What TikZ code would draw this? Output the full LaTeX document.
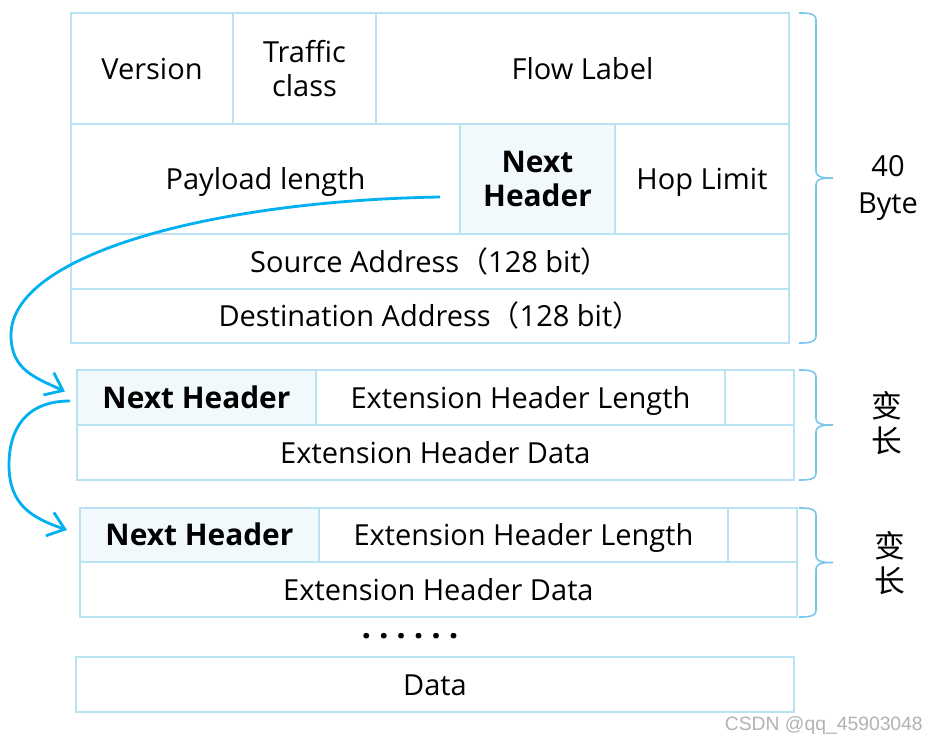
\documentclass[tikz,border=0pt]{standalone}
\usepackage{fontspec}
\setmainfont{Open Sans}
\newfontfamily\cjk{Noto Sans CJK SC}
\newfontfamily\markfont{Liberation Sans}
\usetikzlibrary{arrows.meta}
\definecolor{cellline}{RGB}{185,227,245}
\definecolor{nhfill}{RGB}{242,249,253}
\definecolor{flowblue}{RGB}{0,176,240}
\definecolor{bracecol}{RGB}{120,198,236}
\tikzstyle{box} = [draw=cellline, line width=1.15pt, inner sep=0pt, outer sep=0pt, anchor=north west, align=center, font=\fontsize{16.5}{19.5}\selectfont]
\tikzstyle{cell} = [box, text height=15pt, text depth=2.6pt]
\tikzstyle{nhcell} = [cell, fill=nhfill, font=\fontsize{17}{19.5}\selectfont\bfseries]
\tikzstyle{flow} = [flowblue, line width=1.6pt, -{Straight Barb[length=9pt,width=14pt]}]
\tikzstyle{brace} = [bracecol, line width=0.9pt]
\tikzstyle{side} = [align=center, font=\fontsize{16.5}{21.5}\selectfont]
% brace on the right, from top y to bottom y
\newcommand{\sidebrace}[2]{%
  \draw[brace] (799,#1) to[out=0,in=90] (816,#1+7) -- (816,{(#1+#2)/2-7})
    to[out=-90,in=180] (833,{(#1+#2)/2}) to[out=180,in=90] (816,{(#1+#2)/2+7})
    -- (816,#2-7) to[out=-90,in=0] (799,#2);}

\begin{document}
\begin{tikzpicture}[x=0.02cm, y=-0.02cm]
\useasboundingbox (0,0) rectangle (931,743);

% IPv6 basic header
\node[cell, minimum width=3.24cm, minimum height=2.22cm] (ver) at (71,13) {Version};
\node[box, minimum width=2.86cm, minimum height=2.22cm] (tc) at (233,13) {Traffic\\class};
\node[cell, minimum width=8.26cm, minimum height=2.22cm] (fl) at (376,13) {Flow Label};
\node[cell, minimum width=7.78cm, minimum height=2.2cm] (pl) at (71,124) {Payload length};
\node[box, fill=nhfill, font=\fontsize{17}{19.5}\selectfont\bfseries, minimum width=3.1cm, minimum height=2.2cm] (nhA) at (460,124) {Next\\Header};
\node[cell, minimum width=3.48cm, minimum height=2.2cm] (hop) at (615,124) {Hop Limit};
\node[cell, minimum width=14.36cm, minimum height=1.1cm] (src) at (71,234) {Source Address{\cjk（}128 bit{\cjk）}};
\node[cell, minimum width=14.36cm, minimum height=1.08cm] (dst) at (71,289) {Destination Address{\cjk（}128 bit{\cjk）}};

% first extension header
\node[box, minimum width=14.34cm, minimum height=2.2cm] (ext1) at (77,370) {};
\node[nhcell, minimum width=4.78cm, minimum height=1.1cm] (nhB) at (77,370) {Next Header};
\node[cell, minimum width=8.18cm, minimum height=1.1cm] (ehlB) at (316,370) {Extension Header Length};
\node[cell, minimum width=14.34cm, minimum height=1.1cm] (ehdB) at (77,425) {Extension Header Data};

% second extension header
\node[box, minimum width=14.34cm, minimum height=2.18cm] (ext2) at (80,508) {};
\node[nhcell, minimum width=4.78cm, minimum height=1.08cm] (nhC) at (80,508) {Next Header};
\node[cell, minimum width=8.18cm, minimum height=1.08cm] (ehlC) at (319,508) {Extension Header Length};
\node[cell, minimum width=14.34cm, minimum height=1.1cm] (ehdC) at (80,562) {Extension Header Data};

% rest of the packet
\node[font=\fontsize{19}{19}\selectfont\bfseries] (dots) at (410,636) {.\kern4.5pt.\kern4.5pt.\kern4.5pt.\kern4.5pt.\kern4.5pt.};
\node[cell, minimum width=14.36cm, minimum height=1.1cm] (data) at (76,657) {Data};

% next header chain
\coordinate (bendA) at (11,335);
\coordinate (bendB) at (9,465);
\draw[flow] ([shift={(-20,18)}]nhA.west) .. controls +(-230,4) and +(0,-80) .. (bendA)
  .. controls +(0,35) and +(-30,-14) .. ([shift={(-12,-6)}]nhB.west);
\draw[flow] ([shift={(-7,3.5)}]nhB.west) .. controls +(-45,0) and +(0,-35) .. (bendB)
  .. controls +(0,40) and +(-35,-12) .. ([shift={(-13,-5)}]nhC.west);

% sizes
\sidebrace{13}{343}
\sidebrace{370}{480}
\sidebrace{508}{617}
\node[side] (len0) at (888,188) {40\\Byte};
\node[side, font=\cjk\fontsize{17.5}{20}\selectfont] (len1) at (887,423) {变\\长};
\node[side, font=\cjk\fontsize{17.5}{20}\selectfont] (len2) at (890,563) {变\\长};

\node[font=\markfont\fontsize{11}{13}\selectfont, text=black!30, anchor=east] (mark) at (929,726) {CSDN @qq\_45903048};
\end{tikzpicture}
\end{document}
